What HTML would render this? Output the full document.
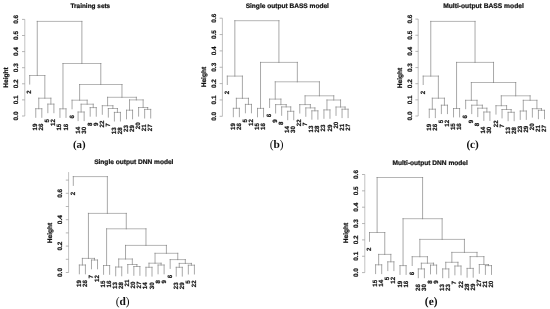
<!DOCTYPE html>
<html lang="en"><head><meta charset="utf-8"><title>Dendrograms</title>
<style>
html,body{margin:0;padding:0;background:#fff;}
body{width:550px;height:309px;overflow:hidden;}
svg{display:block;}
.p text{font-family:"Liberation Sans", Arial, sans-serif;font-weight:bold;fill:#111;text-rendering:geometricPrecision;stroke:#111;stroke-width:0.22px;}
.p text.lf{font-size:6.2px;stroke-width:0.2px;}
.p text.cap{stroke:none;font-family:"Liberation Serif", "Times New Roman", serif;font-weight:normal;font-size:11.4px;fill:#111;}
.p text.cap.b{font-weight:bold;}
.bl{font-weight:bold;}
.dn{fill:none;stroke:#787878;stroke-width:0.64;stroke-linecap:square;}
.dh{fill:none;stroke:#787878;stroke-width:0.55;stroke-linecap:square;}
.ax{fill:none;stroke:#a8a8a8;stroke-width:0.7;}
.tk{fill:none;stroke:#969696;stroke-width:0.7;}
</style></head><body>
<svg width="550" height="309" viewBox="0 0 550 309">
<rect width="550" height="309" fill="#fff"/>
<g class="p">
<path class="ax" d="M24.8 19.4V116"/>
<path class="tk" d="M22 116H24.8M22 99.9H24.8M22 83.8H24.8M22 67.7H24.8M22 51.6H24.8M22 35.5H24.8M22 19.4H24.8"/>
<path class="dn" d="M29.7 75.5V84.1M35.75 108.7V117.3M41.8 108.7V117.3M38.77 98.2V108.7M47.85 104.1V112.7M53.9 104.1V112.7M50.88 98.2V104.1M44.83 75.5V98.2M37.26 21.4V75.5M59.95 108.8V117.4M66 108.8V117.4M62.98 63.5V108.8M72.05 100.2V108.8M78.1 112V120.6M84.15 112V120.6M81.12 104.2V112M90.2 107.6V116.2M96.25 107.6V116.2M93.22 104.2V107.6M87.17 100.2V104.2M79.61 84.5V100.2M102.3 105.7V114.3M108.35 108.5V117.1M114.4 112.4V121M120.45 112.4V121M117.43 108.5V112.4M112.89 105.7V108.5M107.59 97.3V105.7M126.5 110.2V118.8M132.55 110.2V118.8M129.52 99.9V110.2M138.6 107.5V116.1M144.65 109.4V118M150.7 109.4V118M147.68 107.5V109.4M143.14 99.9V107.5M136.33 97.3V99.9M121.96 84.5V97.3M100.79 63.5V84.5M81.88 21.4V63.5"/>
<path class="dh" d="M35.75 108.7H41.8M47.85 104.1H53.9M38.77 98.2H50.88M29.7 75.5H44.83M59.95 108.8H66M78.1 112H84.15M90.2 107.6H96.25M81.12 104.2H93.22M72.05 100.2H87.17M114.4 112.4H120.45M108.35 108.5H117.43M102.3 105.7H112.89M126.5 110.2H132.55M144.65 109.4H150.7M138.6 107.5H147.68M129.52 99.9H143.14M107.59 97.3H136.33M79.61 84.5H121.96M62.98 63.5H100.79M37.26 21.4H81.88"/>
<text transform="translate(31.23 90.4) rotate(-90)" text-anchor="end" class="lf">2</text>
<text transform="translate(37.28 123.6) rotate(-90)" text-anchor="end" class="lf">19</text>
<text transform="translate(43.33 123.6) rotate(-90)" text-anchor="end" class="lf">26</text>
<text transform="translate(49.38 119) rotate(-90)" text-anchor="end" class="lf">5</text>
<text transform="translate(55.43 119) rotate(-90)" text-anchor="end" class="lf">12</text>
<text transform="translate(61.48 123.7) rotate(-90)" text-anchor="end" class="lf">15</text>
<text transform="translate(67.53 123.7) rotate(-90)" text-anchor="end" class="lf">16</text>
<text transform="translate(73.58 115.1) rotate(-90)" text-anchor="end" class="lf">6</text>
<text transform="translate(79.63 126.9) rotate(-90)" text-anchor="end" class="lf">14</text>
<text transform="translate(85.68 126.9) rotate(-90)" text-anchor="end" class="lf">30</text>
<text transform="translate(91.73 122.5) rotate(-90)" text-anchor="end" class="lf">8</text>
<text transform="translate(97.78 122.5) rotate(-90)" text-anchor="end" class="lf">9</text>
<text transform="translate(103.83 120.6) rotate(-90)" text-anchor="end" class="lf">22</text>
<text transform="translate(109.88 123.4) rotate(-90)" text-anchor="end" class="lf">7</text>
<text transform="translate(115.93 127.3) rotate(-90)" text-anchor="end" class="lf">13</text>
<text transform="translate(121.98 127.3) rotate(-90)" text-anchor="end" class="lf">28</text>
<text transform="translate(128.03 125.1) rotate(-90)" text-anchor="end" class="lf">23</text>
<text transform="translate(134.08 125.1) rotate(-90)" text-anchor="end" class="lf">29</text>
<text transform="translate(140.13 122.4) rotate(-90)" text-anchor="end" class="lf">20</text>
<text transform="translate(146.18 124.3) rotate(-90)" text-anchor="end" class="lf">21</text>
<text transform="translate(152.23 124.3) rotate(-90)" text-anchor="end" class="lf">27</text>
<text transform="translate(18.4 116) rotate(-90)" text-anchor="middle" font-size="6.4">0.0</text>
<text transform="translate(18.4 99.9) rotate(-90)" text-anchor="middle" font-size="6.4">0.1</text>
<text transform="translate(18.4 83.8) rotate(-90)" text-anchor="middle" font-size="6.4">0.2</text>
<text transform="translate(18.4 67.7) rotate(-90)" text-anchor="middle" font-size="6.4">0.3</text>
<text transform="translate(18.4 51.6) rotate(-90)" text-anchor="middle" font-size="6.4">0.4</text>
<text transform="translate(18.4 35.5) rotate(-90)" text-anchor="middle" font-size="6.4">0.5</text>
<text transform="translate(18.4 19.4) rotate(-90)" text-anchor="middle" font-size="6.4">0.6</text>
<text transform="translate(8.4 77.5) rotate(-90)" text-anchor="middle" font-size="6.6">Height</text>
<text x="90.35" y="8.4" text-anchor="middle" font-size="6.45">Training sets</text>
<text class="cap b" x="79.3" y="147.7" style="font-size:10.9px" text-anchor="middle">(<tspan class="bl">a</tspan>)</text>
</g>
<g class="p">
<path class="ax" d="M222.4 18.2V116.3"/>
<path class="tk" d="M219.6 116.3H222.4M219.6 99.95H222.4M219.6 83.6H222.4M219.6 67.25H222.4M219.6 50.9H222.4M219.6 34.55H222.4M219.6 18.2H222.4"/>
<path class="dn" d="M227.3 76.1V84.5M233.34 108.3V116.7M239.38 108.3V116.7M236.36 98.3V108.3M245.42 104.4V112.8M251.46 104.4V112.8M248.44 98.3V104.4M242.4 76.1V98.3M234.85 20.7V76.1M257.5 108.4V116.8M263.54 108.4V116.8M260.52 62.4V108.4M269.58 99.1V107.5M275.62 104.6V113M281.66 106.9V115.3M287.7 111.3V119.7M293.74 111.3V119.7M290.72 106.9V111.3M286.19 104.6V106.9M280.91 99.1V104.6M275.24 81.8V99.1M299.78 104.6V113M305.82 107.9V116.3M311.86 110.8V119.2M317.9 110.8V119.2M314.88 107.9V110.8M310.35 104.6V107.9M305.07 95.8V104.6M323.94 109.9V118.3M329.98 109.9V118.3M326.96 100V109.9M336.02 107V115.4M342.06 109.2V117.6M348.1 109.2V117.6M345.08 107V109.2M340.55 100V107M333.75 95.8V100M319.41 81.8V95.8M297.33 62.4V81.8M278.92 20.7V62.4"/>
<path class="dh" d="M233.34 108.3H239.38M245.42 104.4H251.46M236.36 98.3H248.44M227.3 76.1H242.4M257.5 108.4H263.54M287.7 111.3H293.74M281.66 106.9H290.72M275.62 104.6H286.19M269.58 99.1H280.91M311.86 110.8H317.9M305.82 107.9H314.88M299.78 104.6H310.35M323.94 109.9H329.98M342.06 109.2H348.1M336.02 107H345.08M326.96 100H340.55M305.07 95.8H333.75M275.24 81.8H319.41M260.52 62.4H297.33M234.85 20.7H278.92"/>
<text transform="translate(228.83 90.8) rotate(-90)" text-anchor="end" class="lf">2</text>
<text transform="translate(234.87 123) rotate(-90)" text-anchor="end" class="lf">19</text>
<text transform="translate(240.91 123) rotate(-90)" text-anchor="end" class="lf">26</text>
<text transform="translate(246.95 119.1) rotate(-90)" text-anchor="end" class="lf">5</text>
<text transform="translate(252.99 119.1) rotate(-90)" text-anchor="end" class="lf">12</text>
<text transform="translate(259.03 123.1) rotate(-90)" text-anchor="end" class="lf">15</text>
<text transform="translate(265.07 123.1) rotate(-90)" text-anchor="end" class="lf">16</text>
<text transform="translate(271.11 113.8) rotate(-90)" text-anchor="end" class="lf">6</text>
<text transform="translate(277.15 119.3) rotate(-90)" text-anchor="end" class="lf">9</text>
<text transform="translate(283.19 121.6) rotate(-90)" text-anchor="end" class="lf">8</text>
<text transform="translate(289.23 126) rotate(-90)" text-anchor="end" class="lf">14</text>
<text transform="translate(295.27 126) rotate(-90)" text-anchor="end" class="lf">30</text>
<text transform="translate(301.31 119.3) rotate(-90)" text-anchor="end" class="lf">22</text>
<text transform="translate(307.35 122.6) rotate(-90)" text-anchor="end" class="lf">7</text>
<text transform="translate(313.39 125.5) rotate(-90)" text-anchor="end" class="lf">13</text>
<text transform="translate(319.43 125.5) rotate(-90)" text-anchor="end" class="lf">28</text>
<text transform="translate(325.47 124.6) rotate(-90)" text-anchor="end" class="lf">23</text>
<text transform="translate(331.51 124.6) rotate(-90)" text-anchor="end" class="lf">29</text>
<text transform="translate(337.55 121.7) rotate(-90)" text-anchor="end" class="lf">20</text>
<text transform="translate(343.59 123.9) rotate(-90)" text-anchor="end" class="lf">21</text>
<text transform="translate(349.63 123.9) rotate(-90)" text-anchor="end" class="lf">27</text>
<text transform="translate(216 116.3) rotate(-90)" text-anchor="middle" font-size="6.4">0.0</text>
<text transform="translate(216 99.95) rotate(-90)" text-anchor="middle" font-size="6.4">0.1</text>
<text transform="translate(216 83.6) rotate(-90)" text-anchor="middle" font-size="6.4">0.2</text>
<text transform="translate(216 67.25) rotate(-90)" text-anchor="middle" font-size="6.4">0.3</text>
<text transform="translate(216 50.9) rotate(-90)" text-anchor="middle" font-size="6.4">0.4</text>
<text transform="translate(216 34.55) rotate(-90)" text-anchor="middle" font-size="6.4">0.5</text>
<text transform="translate(216 18.2) rotate(-90)" text-anchor="middle" font-size="6.4">0.6</text>
<text transform="translate(206 77.1) rotate(-90)" text-anchor="middle" font-size="6.6">Height</text>
<text x="287.3" y="8.4" text-anchor="middle" font-size="6.58">Single output BASS model</text>
<text class="cap" x="276.7" y="147.7" style="font-size:11.4px" text-anchor="middle">(<tspan class="bl">b</tspan>)</text>
</g>
<g class="p">
<path class="ax" d="M418.2 19.1V116"/>
<path class="tk" d="M415.4 116H418.2M415.4 99.85H418.2M415.4 83.7H418.2M415.4 67.55H418.2M415.4 51.4H418.2M415.4 35.25H418.2M415.4 19.1H418.2"/>
<path class="dn" d="M423.2 76.1V84.5M429.26 109.2V117.6M435.33 109.2V117.6M432.3 98.2V109.2M441.39 105.2V113.6M447.46 105.2V113.6M444.43 98.2V105.2M438.36 76.1V98.2M430.78 21.4V76.1M453.52 108.5V116.9M459.59 108.5V116.9M456.56 62.4V108.5M465.65 100.3V108.7M471.72 105.2V113.6M477.78 108.2V116.6M483.85 112V120.4M489.91 112V120.4M486.88 108.2V112M482.33 105.2V108.2M477.03 100.3V105.2M471.34 82.5V100.3M495.98 105.7V114.1M502.04 109.5V117.9M508.11 112.3V120.7M514.17 112.3V120.7M511.14 109.5V112.3M506.59 105.7V109.5M501.29 95.8V105.7M520.24 111V119.4M526.3 111V119.4M523.27 100.3V111M532.37 108.7V117.1M538.43 110.3V118.7M544.5 110.3V118.7M541.47 108.7V110.3M536.92 100.3V108.7M530.1 95.8V100.3M515.69 82.5V95.8M493.52 62.4V82.5M475.04 21.4V62.4"/>
<path class="dh" d="M429.26 109.2H435.33M441.39 105.2H447.46M432.3 98.2H444.43M423.2 76.1H438.36M453.52 108.5H459.59M483.85 112H489.91M477.78 108.2H486.88M471.72 105.2H482.33M465.65 100.3H477.03M508.11 112.3H514.17M502.04 109.5H511.14M495.98 105.7H506.59M520.24 111H526.3M538.43 110.3H544.5M532.37 108.7H541.47M523.27 100.3H536.92M501.29 95.8H530.1M471.34 82.5H515.69M456.56 62.4H493.52M430.78 21.4H475.04"/>
<text transform="translate(424.73 90.8) rotate(-90)" text-anchor="end" class="lf">2</text>
<text transform="translate(430.8 123.9) rotate(-90)" text-anchor="end" class="lf">19</text>
<text transform="translate(436.86 123.9) rotate(-90)" text-anchor="end" class="lf">26</text>
<text transform="translate(442.93 119.9) rotate(-90)" text-anchor="end" class="lf">5</text>
<text transform="translate(448.99 119.9) rotate(-90)" text-anchor="end" class="lf">12</text>
<text transform="translate(455.06 123.2) rotate(-90)" text-anchor="end" class="lf">15</text>
<text transform="translate(461.12 123.2) rotate(-90)" text-anchor="end" class="lf">16</text>
<text transform="translate(467.19 115) rotate(-90)" text-anchor="end" class="lf">6</text>
<text transform="translate(473.25 119.9) rotate(-90)" text-anchor="end" class="lf">9</text>
<text transform="translate(479.32 122.9) rotate(-90)" text-anchor="end" class="lf">8</text>
<text transform="translate(485.38 126.7) rotate(-90)" text-anchor="end" class="lf">14</text>
<text transform="translate(491.45 126.7) rotate(-90)" text-anchor="end" class="lf">30</text>
<text transform="translate(497.51 120.4) rotate(-90)" text-anchor="end" class="lf">22</text>
<text transform="translate(503.58 124.2) rotate(-90)" text-anchor="end" class="lf">7</text>
<text transform="translate(509.64 127) rotate(-90)" text-anchor="end" class="lf">13</text>
<text transform="translate(515.71 127) rotate(-90)" text-anchor="end" class="lf">28</text>
<text transform="translate(521.77 125.7) rotate(-90)" text-anchor="end" class="lf">23</text>
<text transform="translate(527.84 125.7) rotate(-90)" text-anchor="end" class="lf">29</text>
<text transform="translate(533.9 123.4) rotate(-90)" text-anchor="end" class="lf">20</text>
<text transform="translate(539.97 125) rotate(-90)" text-anchor="end" class="lf">21</text>
<text transform="translate(546.03 125) rotate(-90)" text-anchor="end" class="lf">27</text>
<text transform="translate(411.8 116) rotate(-90)" text-anchor="middle" font-size="6.4">0.0</text>
<text transform="translate(411.8 99.85) rotate(-90)" text-anchor="middle" font-size="6.4">0.1</text>
<text transform="translate(411.8 83.7) rotate(-90)" text-anchor="middle" font-size="6.4">0.2</text>
<text transform="translate(411.8 67.55) rotate(-90)" text-anchor="middle" font-size="6.4">0.3</text>
<text transform="translate(411.8 51.4) rotate(-90)" text-anchor="middle" font-size="6.4">0.4</text>
<text transform="translate(411.8 35.25) rotate(-90)" text-anchor="middle" font-size="6.4">0.5</text>
<text transform="translate(411.8 19.1) rotate(-90)" text-anchor="middle" font-size="6.4">0.6</text>
<text transform="translate(401.8 78) rotate(-90)" text-anchor="middle" font-size="6.6">Height</text>
<text x="483.5" y="8.4" text-anchor="middle" font-size="6.7">Multi-output BASS model</text>
<text class="cap b" x="472.6" y="147.7" style="font-size:11.2px" text-anchor="middle">(<tspan class="bl">c</tspan>)</text>
</g>
<g class="p">
<path class="ax" d="M68.6 172.1V272.5"/>
<path class="tk" d="M65.8 272.5H68.6M65.8 259.3H68.6M65.8 246.1H68.6M65.8 232.9H68.6M65.8 219.7H68.6M65.8 206.5H68.6M65.8 193.3H68.6M65.8 180.1H68.6"/>
<path class="dn" d="M73.3 176.6V185.4M79.35 265V273.8M85.41 265V273.8M82.38 258.4V265M91.47 260V268.8M97.52 260V268.8M94.49 258.4V260M88.44 213.4V258.4M103.57 265.5V274.3M109.63 265.5V274.3M106.6 228.8V265.5M115.69 267V275.8M121.74 267V275.8M118.71 259V267M127.79 264.5V273.3M133.85 266.5V275.3M139.9 266.5V275.3M136.88 264.5V266.5M132.34 259V264.5M125.52 245.4V259M145.96 267.3V276.1M152.01 267.3V276.1M148.99 263.2V267.3M158.07 265V273.8M164.12 265V273.8M161.1 263.2V265M155.04 253.3V263.2M170.18 259.6V268.4M176.24 267.3V276.1M182.29 267.3V276.1M179.26 263.4V267.3M188.34 265.2V274M194.4 265.2V274M191.37 263.4V265.2M185.32 259.6V263.4M177.75 253.3V259.6M166.4 245.4V253.3M145.96 228.8V245.4M126.28 213.4V228.8M107.36 176.6V213.4"/>
<path class="dh" d="M79.35 265H85.41M91.47 260H97.52M82.38 258.4H94.49M103.57 265.5H109.63M115.69 267H121.74M133.85 266.5H139.9M127.79 264.5H136.88M118.71 259H132.34M145.96 267.3H152.01M158.07 265H164.12M148.99 263.2H161.1M176.24 267.3H182.29M188.34 265.2H194.4M179.26 263.4H191.37M170.18 259.6H185.32M155.04 253.3H177.75M125.52 245.4H166.4M106.6 228.8H145.96M88.44 213.4H126.28M73.3 176.6H107.36"/>
<text transform="translate(74.83 191.7) rotate(-90)" text-anchor="end" class="lf">2</text>
<text transform="translate(80.89 280.1) rotate(-90)" text-anchor="end" class="lf">19</text>
<text transform="translate(86.94 280.1) rotate(-90)" text-anchor="end" class="lf">26</text>
<text transform="translate(93 275.1) rotate(-90)" text-anchor="end" class="lf">7</text>
<text transform="translate(99.05 275.1) rotate(-90)" text-anchor="end" class="lf">12</text>
<text transform="translate(105.11 280.6) rotate(-90)" text-anchor="end" class="lf">15</text>
<text transform="translate(111.16 280.6) rotate(-90)" text-anchor="end" class="lf">16</text>
<text transform="translate(117.22 282.1) rotate(-90)" text-anchor="end" class="lf">13</text>
<text transform="translate(123.27 282.1) rotate(-90)" text-anchor="end" class="lf">28</text>
<text transform="translate(129.33 279.6) rotate(-90)" text-anchor="end" class="lf">21</text>
<text transform="translate(135.38 281.6) rotate(-90)" text-anchor="end" class="lf">20</text>
<text transform="translate(141.44 281.6) rotate(-90)" text-anchor="end" class="lf">27</text>
<text transform="translate(147.49 282.4) rotate(-90)" text-anchor="end" class="lf">14</text>
<text transform="translate(153.55 282.4) rotate(-90)" text-anchor="end" class="lf">30</text>
<text transform="translate(159.6 280.1) rotate(-90)" text-anchor="end" class="lf">8</text>
<text transform="translate(165.66 280.1) rotate(-90)" text-anchor="end" class="lf">9</text>
<text transform="translate(171.71 274.7) rotate(-90)" text-anchor="end" class="lf">6</text>
<text transform="translate(177.77 282.4) rotate(-90)" text-anchor="end" class="lf">23</text>
<text transform="translate(183.82 282.4) rotate(-90)" text-anchor="end" class="lf">29</text>
<text transform="translate(189.88 280.3) rotate(-90)" text-anchor="end" class="lf">5</text>
<text transform="translate(195.93 280.3) rotate(-90)" text-anchor="end" class="lf">22</text>
<text transform="translate(62.2 272.5) rotate(-90)" text-anchor="middle" font-size="6.4">0.0</text>
<text transform="translate(62.2 246.1) rotate(-90)" text-anchor="middle" font-size="6.4">0.2</text>
<text transform="translate(62.2 219.7) rotate(-90)" text-anchor="middle" font-size="6.4">0.4</text>
<text transform="translate(62.2 193.3) rotate(-90)" text-anchor="middle" font-size="6.4">0.6</text>
<text transform="translate(52.2 233) rotate(-90)" text-anchor="middle" font-size="6.6">Height</text>
<text x="133.8" y="164.3" text-anchor="middle" font-size="6.58">Single output DNN model</text>
<text class="cap" x="122.7" y="304.5" style="font-size:11.4px" text-anchor="middle">(<tspan class="bl">d</tspan>)</text>
</g>
<g class="p">
<path class="ax" d="M364.8 174.5V272.6"/>
<path class="tk" d="M362 272.6H364.8M362 256.25H364.8M362 239.9H364.8M362 223.55H364.8M362 207.2H364.8M362 190.85H364.8M362 174.5H364.8"/>
<path class="dn" d="M369.5 232.5V241.3M375.6 264.8V273.6M381.7 264.8V273.6M378.65 254.4V264.8M387.8 261.8V270.6M393.9 261.8V270.6M390.85 254.4V261.8M384.75 232.5V254.4M377.12 177.5V232.5M400 265.6V274.4M406.1 265.6V274.4M403.05 218.7V265.6M412.2 256.7V265.5M418.3 268.9V277.7M424.4 268.9V277.7M421.35 263.2V268.9M430.5 265.1V273.9M436.6 265.1V273.9M433.55 263.2V265.1M427.45 256.7V263.2M419.83 239.4V256.7M442.7 268.9V277.7M448.8 268.9V277.7M445.75 262.3V268.9M454.9 266V274.8M461 266V274.8M457.95 262.3V266M451.85 252.4V262.3M467.1 268.4V277.2M473.2 268.4V277.2M470.15 256.6V268.4M479.3 264.5V273.3M485.4 265.6V274.4M491.5 265.6V274.4M488.45 264.5V265.6M483.88 256.6V264.5M477.01 252.4V256.6M464.43 239.4V252.4M442.13 218.7V239.4M422.59 177.5V218.7"/>
<path class="dh" d="M375.6 264.8H381.7M387.8 261.8H393.9M378.65 254.4H390.85M369.5 232.5H384.75M400 265.6H406.1M418.3 268.9H424.4M430.5 265.1H436.6M421.35 263.2H433.55M412.2 256.7H427.45M442.7 268.9H448.8M454.9 266H461M445.75 262.3H457.95M467.1 268.4H473.2M485.4 265.6H491.5M479.3 264.5H488.45M470.15 256.6H483.88M451.85 252.4H477.01M419.83 239.4H464.43M403.05 218.7H442.13M377.12 177.5H422.59"/>
<text transform="translate(371.03 247.6) rotate(-90)" text-anchor="end" class="lf">2</text>
<text transform="translate(377.13 279.9) rotate(-90)" text-anchor="end" class="lf">15</text>
<text transform="translate(383.23 279.9) rotate(-90)" text-anchor="end" class="lf">14</text>
<text transform="translate(389.33 276.9) rotate(-90)" text-anchor="end" class="lf">5</text>
<text transform="translate(395.43 276.9) rotate(-90)" text-anchor="end" class="lf">12</text>
<text transform="translate(401.53 280.7) rotate(-90)" text-anchor="end" class="lf">19</text>
<text transform="translate(407.63 280.7) rotate(-90)" text-anchor="end" class="lf">16</text>
<text transform="translate(413.73 271.8) rotate(-90)" text-anchor="end" class="lf">6</text>
<text transform="translate(419.83 284) rotate(-90)" text-anchor="end" class="lf">26</text>
<text transform="translate(425.93 284) rotate(-90)" text-anchor="end" class="lf">30</text>
<text transform="translate(432.03 280.2) rotate(-90)" text-anchor="end" class="lf">8</text>
<text transform="translate(438.13 280.2) rotate(-90)" text-anchor="end" class="lf">9</text>
<text transform="translate(444.23 284) rotate(-90)" text-anchor="end" class="lf">13</text>
<text transform="translate(450.33 284) rotate(-90)" text-anchor="end" class="lf">23</text>
<text transform="translate(456.43 281.1) rotate(-90)" text-anchor="end" class="lf">7</text>
<text transform="translate(462.53 281.1) rotate(-90)" text-anchor="end" class="lf">22</text>
<text transform="translate(468.63 283.5) rotate(-90)" text-anchor="end" class="lf">28</text>
<text transform="translate(474.73 283.5) rotate(-90)" text-anchor="end" class="lf">29</text>
<text transform="translate(480.83 279.6) rotate(-90)" text-anchor="end" class="lf">27</text>
<text transform="translate(486.93 280.7) rotate(-90)" text-anchor="end" class="lf">21</text>
<text transform="translate(493.03 280.7) rotate(-90)" text-anchor="end" class="lf">20</text>
<text transform="translate(358.4 272.6) rotate(-90)" text-anchor="middle" font-size="6.4">0.0</text>
<text transform="translate(358.4 256.25) rotate(-90)" text-anchor="middle" font-size="6.4">0.1</text>
<text transform="translate(358.4 239.9) rotate(-90)" text-anchor="middle" font-size="6.4">0.2</text>
<text transform="translate(358.4 223.55) rotate(-90)" text-anchor="middle" font-size="6.4">0.3</text>
<text transform="translate(358.4 207.2) rotate(-90)" text-anchor="middle" font-size="6.4">0.4</text>
<text transform="translate(358.4 190.85) rotate(-90)" text-anchor="middle" font-size="6.4">0.5</text>
<text transform="translate(358.4 174.5) rotate(-90)" text-anchor="middle" font-size="6.4">0.6</text>
<text transform="translate(348.4 233) rotate(-90)" text-anchor="middle" font-size="6.6">Height</text>
<text x="430.2" y="165" text-anchor="middle" font-size="6.58">Multi-output DNN model</text>
<text class="cap b" x="431.2" y="304.5" style="font-size:11.4px" text-anchor="middle">(<tspan class="bl">e</tspan>)</text>
</g>
</svg>
</body></html>
